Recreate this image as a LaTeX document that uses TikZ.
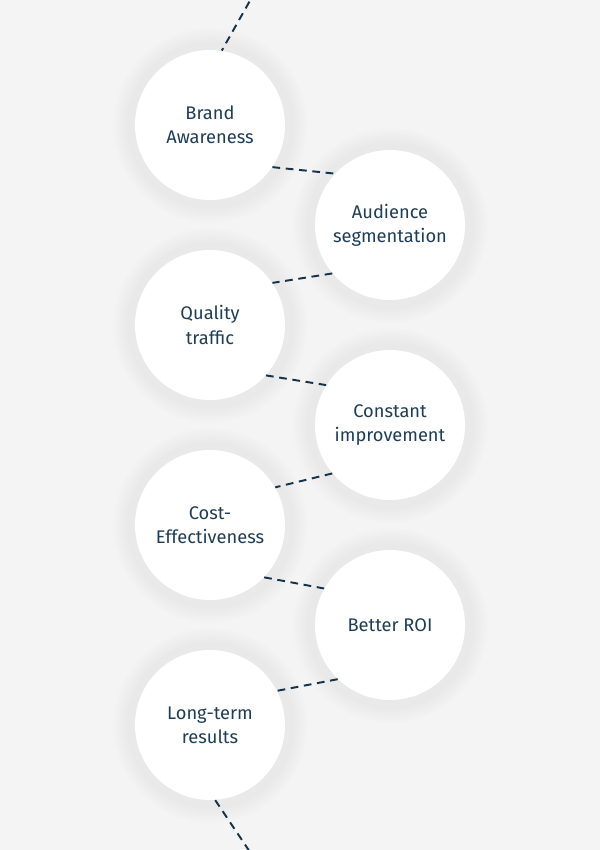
\documentclass[tikz,border=0pt]{standalone}
\usepackage{fontspec}
\setmainfont{Fira Sans}
\usepackage{tikz}
\usetikzlibrary{shadows,positioning}
\definecolor{navy}{HTML}{15324A}
\definecolor{inkblue}{HTML}{1E3D56}
\definecolor{bgpaper}{HTML}{F4F4F4}

\begin{document}
\begin{tikzpicture}[x=0.02cm, y=-0.02cm,
  bubble/.style={circle, fill=white, minimum size=3cm, inner sep=0pt, align=center,
                 text=inkblue, font=\fontsize{10.4}{13.7}\selectfont,
                 circular glow={fill=black!60, opacity=0.07, shadow scale=1.3}},
  link/.style={draw=navy, line width=1.1pt, dash pattern=on 4.4pt off 3.2pt}
]
\fill[bgpaper] (0,0) rectangle (600,850);
\useasboundingbox (0,0) rectangle (600,850);

\node[bubble] (brand)   at (210,125) {Brand\\Awareness};
\node[bubble] (aud)     at (390,225) {Audience\\segmentation};
\node[bubble] (quality) at (210,325) {Quality\\traffic};
\node[bubble] (const)   at (390,425) {Constant\\improvement};
\node[bubble] (cost)    at (210,525) {Cost-\\Effectiveness};
\node[bubble] (roi)     at (390,625) {Better ROI};
\node[bubble] (long)    at (210,725) {Long-term\\results};

\coordinate (top) at (256,-10);
\coordinate (bottom) at (254,858);

% dashed path through the bubbles
\draw[link] (top) -- (brand.81);
\draw[link] (brand.-34) -- (aud.137);
\draw[link] (aud.220) -- (quality.34);
\draw[link] (quality.-42) -- (const.148);
\draw[link] (const.220) -- (cost.30);
\draw[link] (cost.-44) -- (roi.151);
\draw[link] (roi.226) -- (long.27);
\draw[link] (long.-86) -- (bottom);
\end{tikzpicture}
\end{document}
